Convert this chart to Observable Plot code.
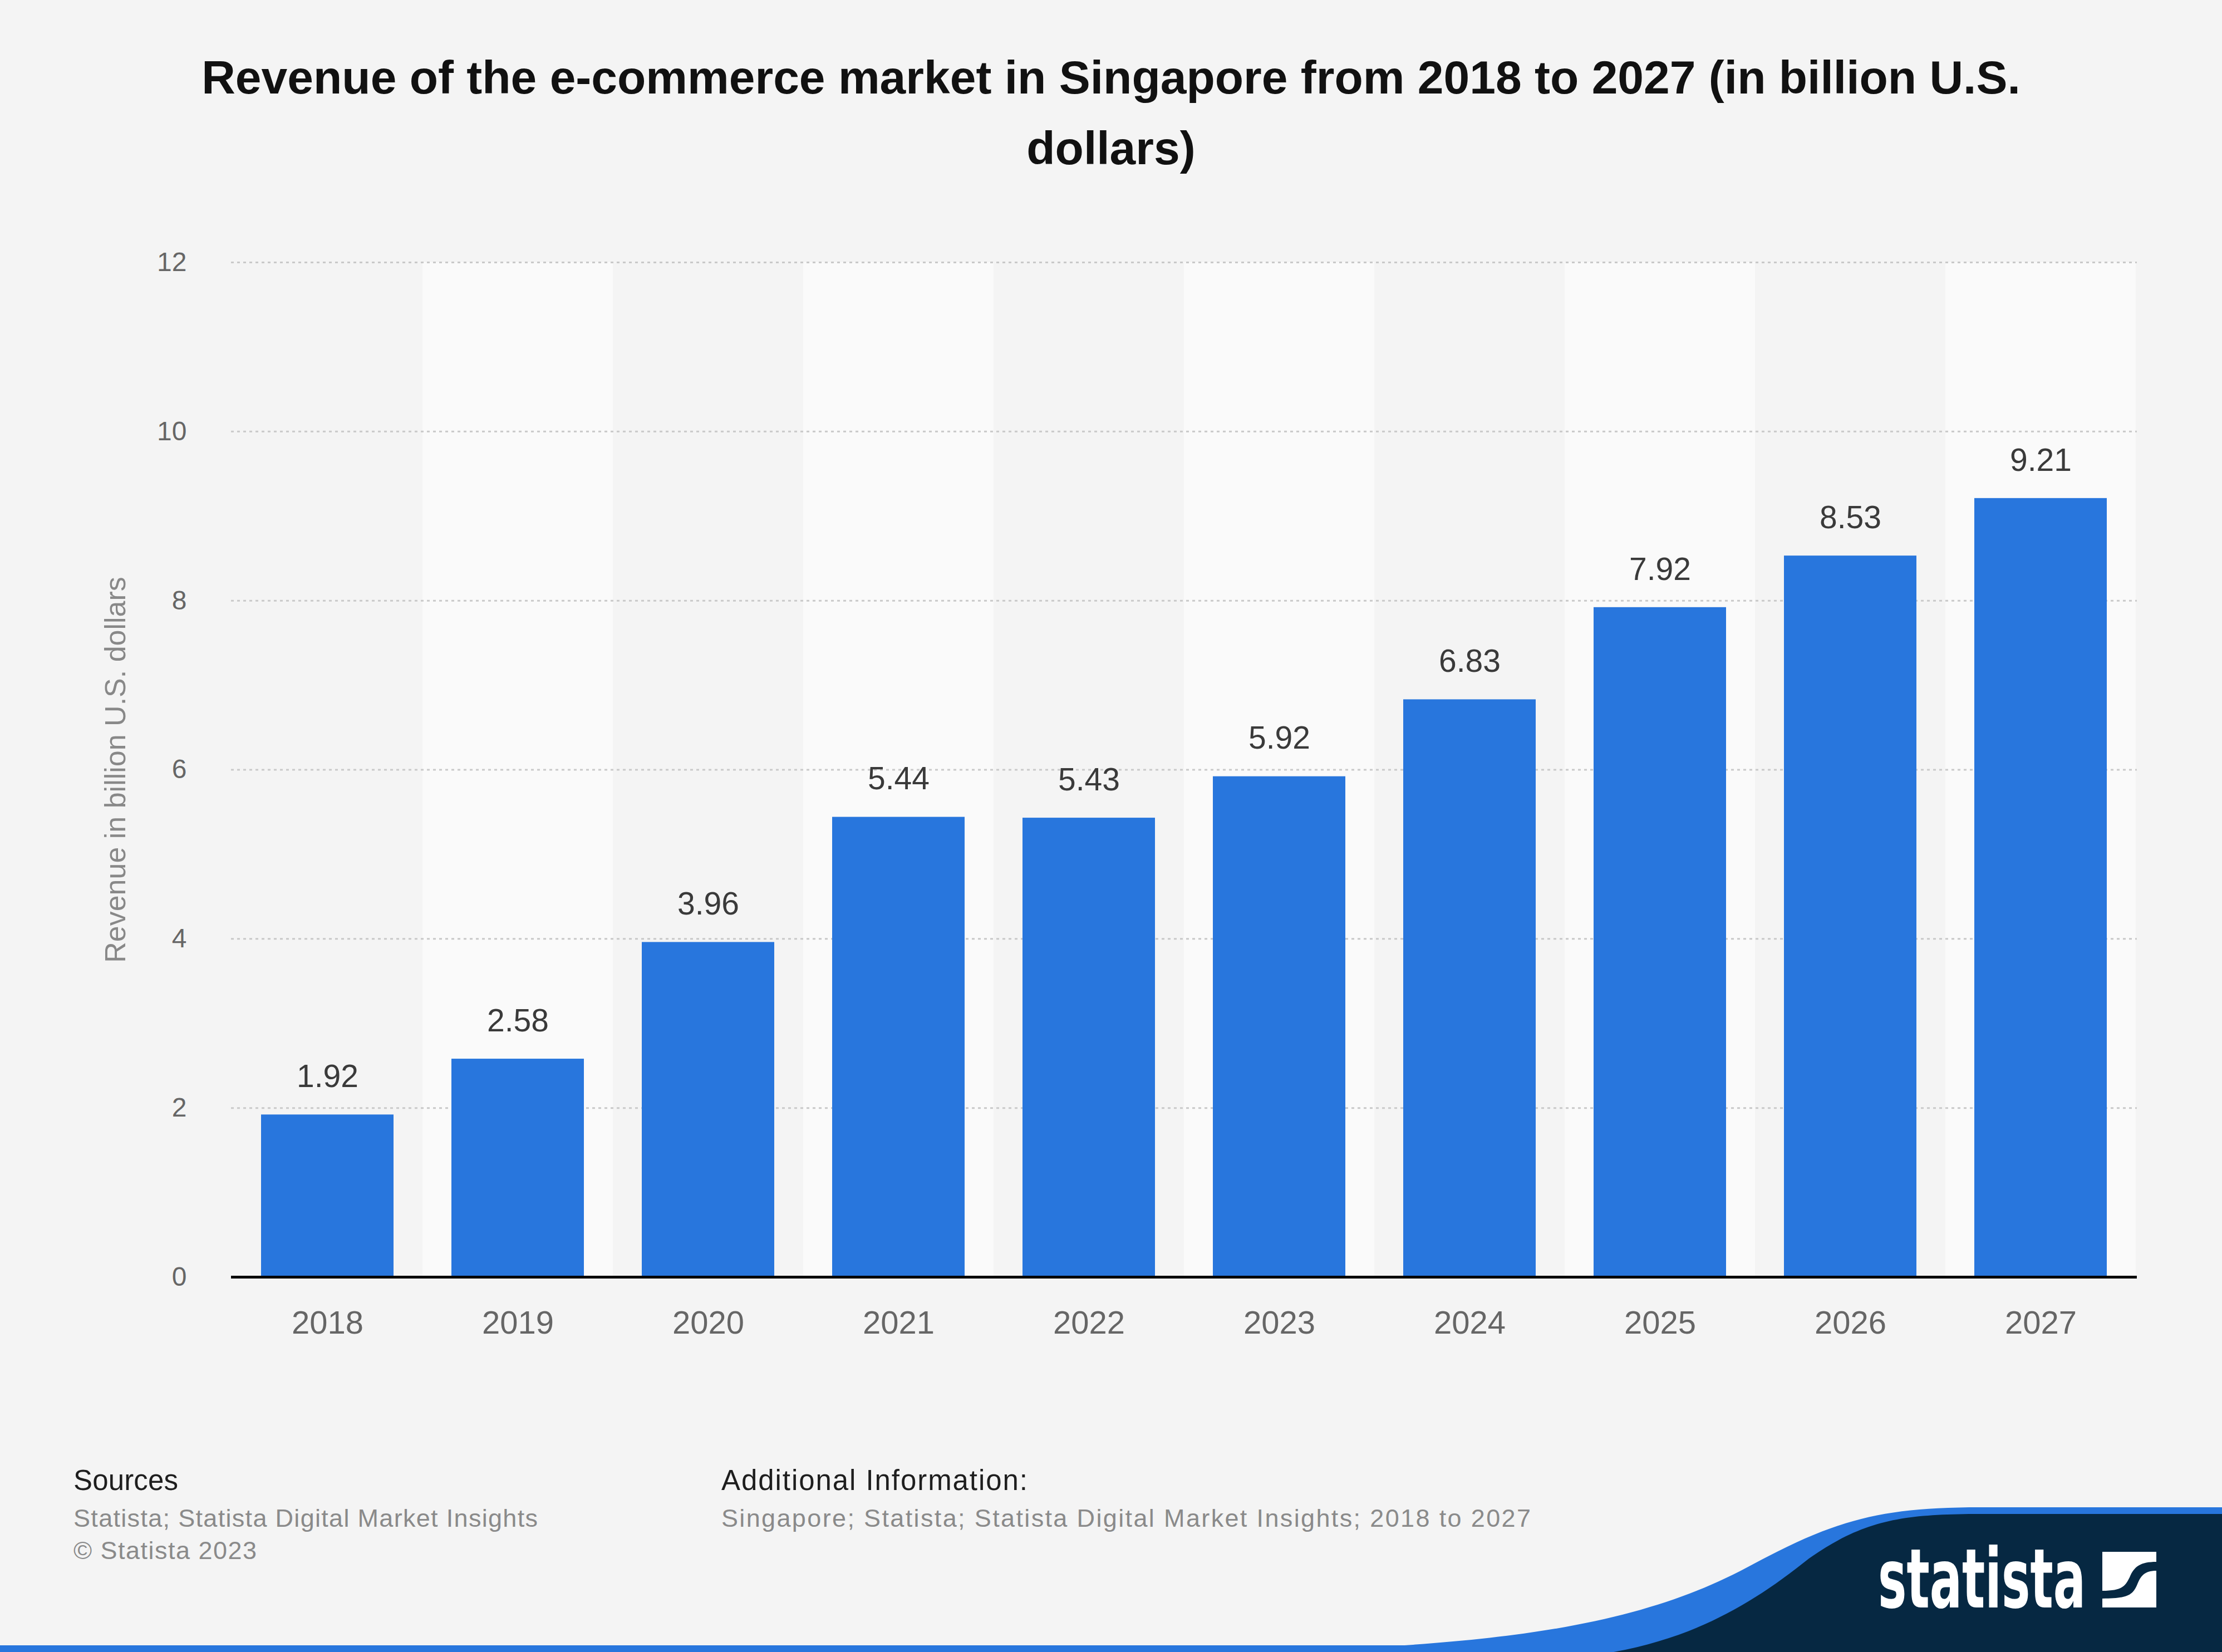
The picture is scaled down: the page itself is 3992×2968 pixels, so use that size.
<!DOCTYPE html>
<html>
<head>
<meta charset="utf-8">
<script src="https://cdn.jsdelivr.net/npm/d3@7"></script>
<script src="https://cdn.jsdelivr.net/npm/@observablehq/plot@0.6"></script>
<style>
  html, body { margin: 0; padding: 0; }
  body { width: 3992px; height: 2968px; background: #f4f4f4; position: relative; overflow: hidden;
         font-family: "Liberation Sans", Arial, Helvetica, sans-serif; }
  #title { position: absolute; left: 0; top: 76px; width: 3992px; text-align: center;
           font-size: 84px; font-weight: bold; line-height: 127px; color: #111; }
  #chart { position: absolute; left: 0; top: 400px; }
  #footer { position: absolute; left: 0; top: 2500px; }
</style>
</head>
<body>
<div id="title">Revenue of the e-commerce market in Singapore from 2018 to 2027 (in billion U.S.<br>dollars)</div>
<div id="chart"></div>
<svg id="footer" width="3992" height="468" viewBox="0 2500 3992 468" xmlns="http://www.w3.org/2000/svg">
  <g font-family="Liberation Sans, Arial, sans-serif">
    <text x="132" y="2677" font-size="51" fill="#1e1e1e" textLength="188" lengthAdjust="spacing">Sources</text>
    <text x="132" y="2743" font-size="45" fill="#8a8a8a" textLength="834" lengthAdjust="spacing">Statista; Statista Digital Market Insights</text>
    <text x="132" y="2801" font-size="45" fill="#8a8a8a" textLength="329" lengthAdjust="spacing">© Statista 2023</text>
    <text x="1296" y="2677" font-size="51" fill="#1e1e1e" textLength="550" lengthAdjust="spacing">Additional Information:</text>
    <text x="1296" y="2743" font-size="45" fill="#8a8a8a" textLength="1454" lengthAdjust="spacing">Singapore; Statista; Statista Digital Market Insights; 2018 to 2027</text>
  </g>
  <rect x="0" y="2956" width="3992" height="12" fill="#2876dd"/>
  <path d="M2200,2968 C2700,2960 2950,2920 3150,2810 C3300,2730 3380,2708 3560,2708 L3992,2708 L3992,2968 Z" fill="#2876dd"/>
  <path d="M2899,2968 C3050,2940 3150,2880 3250,2800 C3350,2730 3420,2720 3560,2720 L3992,2720 L3992,2968 Z" fill="#062842"/>
  <text x="3374" y="2888" font-size="148" font-weight="bold" fill="#ffffff"
        font-family="Liberation Sans Narrow, DejaVu Sans Condensed, Liberation Sans, sans-serif"
        textLength="373" lengthAdjust="spacingAndGlyphs">statista</text>
  <rect x="3777" y="2788" width="97" height="100" fill="#ffffff"/>
  <path d="M3874,2822 C3852,2822 3846,2832 3840,2846 C3832,2866 3822,2872 3777,2872 L3777,2858 C3812,2858 3818,2850 3826,2834 C3834,2814 3846,2806 3874,2806 Z" fill="#062842"/>
</svg>
<script>
const years = ["2018", "2019", "2020", "2021", "2022", "2023", "2024", "2025", "2026", "2027"];
const revenue = [1.92, 2.58, 3.96, 5.44, 5.43, 5.92, 6.83, 7.92, 8.53, 9.21];
const yTicks = [0, 2, 4, 6, 8, 10, 12];
const yLabel = "Revenue in billion U.S. dollars";

const data = years.map((year, i) => ({year, value: revenue[i]}));
const shadedYears = years.filter((d, i) => i % 2 === 1);
const yMax = d3.max(yTicks);

const chart = Plot.plot({
  width: 3992,
  height: 2100,
  marginTop: 71,
  marginBottom: 206,
  marginLeft: 415,
  marginRight: 153,
  style: {background: "transparent", fontFamily: "Liberation Sans, Arial, sans-serif"},
  x: {domain: years, padding: 0, label: null},
  y: {domain: [0, yMax], label: null},
  marks: [
    Plot.barY(shadedYears, {x: d => d, y1: 0, y2: yMax, fill: "#fafafa"}),
    Plot.ruleY(yTicks.filter(d => d > 0), {stroke: "#c9c9c9", strokeWidth: 3, strokeDasharray: "5,6"}),
    Plot.barY(data, {x: "year", y: "value", fill: "#2876dd", insetLeft: 52, insetRight: 52}),
    Plot.ruleY([0], {stroke: "#000", strokeWidth: 5}),
    Plot.text(data, {x: "year", y: "value", text: d => d.value.toFixed(2), dy: -68, fontSize: 57, fill: "#3a3a3a"}),
    Plot.axisX({tickSize: 0, tickPadding: 60, fontSize: 58, color: "#666", label: null}),
    Plot.axisY({ticks: yTicks, tickSize: 0, tickPadding: 80, fontSize: 48, color: "#666", label: null}),
    Plot.text([yLabel], {frameAnchor: "left", textAnchor: "middle", rotate: -90, dx: -207, fontSize: 52, fill: "#888", text: d => d})
  ]
});
document.getElementById("chart").appendChild(chart);
</script>
</body>
</html>
